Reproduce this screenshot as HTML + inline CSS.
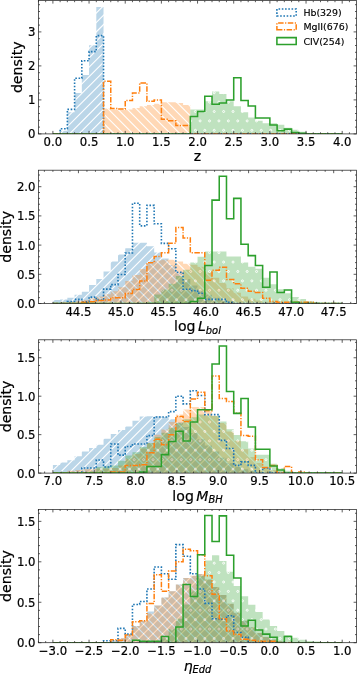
<!DOCTYPE html>
<html lang="en"><head><meta charset="utf-8"><title>density histograms</title>
<style>html,body{margin:0;padding:0;background:#fff}body{width:357px;height:675px;overflow:hidden}</style>
</head><body>
<svg width="357" height="675" viewBox="0 0 357 675" style="display:block">
<rect width="357" height="675" fill="#fff"/>
<g>
<clipPath id="cp0"><rect x="38.4" y="0.6" width="318.20000000000005" height="133.3"/></clipPath>
<g clip-path="url(#cp0)">
<clipPath id="c0hb"><path d="M52.90 133.90 L52.90 133.90 L60.13 133.90 L60.13 130.84 L67.36 130.84 L67.36 112.14 L74.60 112.14 L74.60 93.10 L81.83 93.10 L81.83 75.08 L89.06 75.08 L89.06 45.16 L96.29 45.16 L96.29 7.08 L103.53 7.08 L103.53 133.90 L110.76 133.90 L110.76 133.90 L117.99 133.90 L117.99 133.90 L125.22 133.90 L125.22 133.90 L132.46 133.90 L132.46 133.90 L139.69 133.90 L139.69 133.90 L146.92 133.90 L146.92 133.90 L154.16 133.90 L154.16 133.90 L161.39 133.90 L161.39 133.90 L168.62 133.90 L168.62 133.90 L175.85 133.90 L175.85 133.90 L183.09 133.90 L183.09 133.90 L190.32 133.90 L190.32 133.90 L197.55 133.90 L197.55 133.90 L204.78 133.90 L204.78 133.90 L212.02 133.90 L212.02 133.90 L219.25 133.90 L219.25 133.90 L226.48 133.90 L226.48 133.90 L233.71 133.90 L233.71 133.90 L240.94 133.90 L240.94 133.90 L248.18 133.90 L248.18 133.90 L255.41 133.90 L255.41 133.90 L262.64 133.90 L262.64 133.90 L269.88 133.90 L269.88 133.90 L277.11 133.90 L277.11 133.90 L284.34 133.90 L284.34 133.90 L291.57 133.90 L291.57 133.90 L298.81 133.90 L298.81 133.90 L306.04 133.90 L306.04 133.90 L313.27 133.90 L313.27 133.90 L320.50 133.90 L320.50 133.90 L327.73 133.90 L327.73 133.90 L334.97 133.90 L334.97 133.90 L342.20 133.90 L342.20 133.90 Z"/></clipPath>
<g opacity="0.3" clip-path="url(#c0hb)">
<rect x="59.13" y="6.08" width="45.40" height="128.82" fill="#1f77b4"/>
<path d="M59.13 12.52L65.57 6.08M59.13 21.93L74.98 6.08M59.13 31.34L84.39 6.08M59.13 40.75L93.80 6.08M59.13 50.16L103.21 6.08M59.13 59.57L104.53 14.17M59.13 68.98L104.53 23.58M59.13 78.39L104.53 32.99M59.13 87.80L104.53 42.40M59.13 97.21L104.53 51.81M59.13 106.62L104.53 61.22M59.13 116.03L104.53 70.63M59.13 125.44L104.53 80.04M59.13 134.85L104.53 89.45M68.49 134.90L104.53 98.86M77.90 134.90L104.53 108.27M87.31 134.90L104.53 117.68M96.72 134.90L104.53 127.09" stroke="#fff" stroke-width="1.1" fill="none"/>
</g>
<clipPath id="c0mg"><path d="M52.90 133.90 L52.90 133.90 L60.13 133.90 L60.13 133.90 L67.36 133.90 L67.36 133.90 L74.60 133.90 L74.60 133.90 L81.83 133.90 L81.83 133.90 L89.06 133.90 L89.06 133.90 L96.29 133.90 L96.29 133.90 L103.53 133.90 L103.53 108.40 L110.76 108.40 L110.76 109.42 L117.99 109.42 L117.99 110.10 L125.22 110.10 L125.22 109.42 L132.46 109.42 L132.46 108.06 L139.69 108.06 L139.69 106.36 L146.92 106.36 L146.92 105.00 L154.16 105.00 L154.16 103.64 L161.39 103.64 L161.39 102.28 L168.62 102.28 L168.62 102.28 L175.85 102.28 L175.85 102.96 L183.09 102.96 L183.09 105.00 L190.32 105.00 L190.32 133.90 L197.55 133.90 L197.55 133.90 L204.78 133.90 L204.78 133.90 L212.02 133.90 L212.02 133.90 L219.25 133.90 L219.25 133.90 L226.48 133.90 L226.48 133.90 L233.71 133.90 L233.71 133.90 L240.94 133.90 L240.94 133.90 L248.18 133.90 L248.18 133.90 L255.41 133.90 L255.41 133.90 L262.64 133.90 L262.64 133.90 L269.88 133.90 L269.88 133.90 L277.11 133.90 L277.11 133.90 L284.34 133.90 L284.34 133.90 L291.57 133.90 L291.57 133.90 L298.81 133.90 L298.81 133.90 L306.04 133.90 L306.04 133.90 L313.27 133.90 L313.27 133.90 L320.50 133.90 L320.50 133.90 L327.73 133.90 L327.73 133.90 L334.97 133.90 L334.97 133.90 L342.20 133.90 L342.20 133.90 Z"/></clipPath>
<g opacity="0.3" clip-path="url(#c0mg)">
<rect x="102.53" y="101.28" width="88.79" height="33.62" fill="#ff7f0e"/>
<path d="M102.53 131.55L105.88 134.90M102.53 122.14L115.29 134.90M102.53 112.73L124.70 134.90M102.53 103.32L134.11 134.90M109.90 101.28L143.52 134.90M119.31 101.28L152.93 134.90M128.72 101.28L162.34 134.90M138.13 101.28L171.75 134.90M147.54 101.28L181.16 134.90M156.95 101.28L190.57 134.90M166.36 101.28L191.32 126.24M175.77 101.28L191.32 116.83M185.18 101.28L191.32 107.42" stroke="#fff" stroke-width="1.1" fill="none"/>
</g>
<clipPath id="c0c4"><path d="M52.90 133.90 L52.90 133.90 L60.13 133.90 L60.13 133.90 L67.36 133.90 L67.36 133.90 L74.60 133.90 L74.60 133.90 L81.83 133.90 L81.83 133.90 L89.06 133.90 L89.06 133.90 L96.29 133.90 L96.29 133.90 L103.53 133.90 L103.53 133.90 L110.76 133.90 L110.76 133.90 L117.99 133.90 L117.99 133.90 L125.22 133.90 L125.22 133.90 L132.46 133.90 L132.46 133.90 L139.69 133.90 L139.69 133.90 L146.92 133.90 L146.92 133.90 L154.16 133.90 L154.16 133.90 L161.39 133.90 L161.39 133.90 L168.62 133.90 L168.62 133.90 L175.85 133.90 L175.85 133.90 L183.09 133.90 L183.09 133.90 L190.32 133.90 L190.32 109.42 L197.55 109.42 L197.55 109.42 L204.78 109.42 L204.78 101.26 L212.02 101.26 L212.02 91.40 L219.25 91.40 L219.25 94.12 L226.48 94.12 L226.48 101.26 L233.71 101.26 L233.71 106.36 L240.94 106.36 L240.94 112.14 L248.18 112.14 L248.18 117.58 L255.41 117.58 L255.41 120.64 L262.64 120.64 L262.64 123.36 L269.88 123.36 L269.88 123.36 L277.11 123.36 L277.11 124.72 L284.34 124.72 L284.34 127.78 L291.57 127.78 L291.57 129.82 L298.81 129.82 L298.81 131.86 L306.04 131.86 L306.04 132.88 L313.27 132.88 L313.27 133.90 L320.50 133.90 L320.50 133.90 L327.73 133.90 L327.73 133.90 L334.97 133.90 L334.97 133.90 L342.20 133.90 L342.20 133.90 Z"/></clipPath>
<g opacity="0.3" clip-path="url(#c0c4)">
<rect x="189.32" y="90.40" width="124.95" height="44.50" fill="#2ca02c"/>
<g fill="#2ca02c" stroke="#fff" stroke-width="0.95"><circle cx="204.81" cy="92.68" r="1.0"/><circle cx="214.22" cy="92.68" r="1.0"/><circle cx="223.63" cy="92.68" r="1.0"/><circle cx="233.04" cy="92.68" r="1.0"/><circle cx="200.10" cy="102.09" r="1.0"/><circle cx="209.52" cy="102.09" r="1.0"/><circle cx="218.93" cy="102.09" r="1.0"/><circle cx="228.34" cy="102.09" r="1.0"/><circle cx="237.75" cy="102.09" r="1.0"/><circle cx="195.40" cy="111.50" r="1.0"/><circle cx="204.81" cy="111.50" r="1.0"/><circle cx="214.22" cy="111.50" r="1.0"/><circle cx="223.63" cy="111.50" r="1.0"/><circle cx="233.04" cy="111.50" r="1.0"/><circle cx="242.45" cy="111.50" r="1.0"/><circle cx="251.86" cy="111.50" r="1.0"/><circle cx="190.69" cy="120.91" r="1.0"/><circle cx="200.10" cy="120.91" r="1.0"/><circle cx="209.52" cy="120.91" r="1.0"/><circle cx="218.93" cy="120.91" r="1.0"/><circle cx="228.34" cy="120.91" r="1.0"/><circle cx="237.75" cy="120.91" r="1.0"/><circle cx="247.16" cy="120.91" r="1.0"/><circle cx="256.56" cy="120.91" r="1.0"/><circle cx="265.98" cy="120.91" r="1.0"/><circle cx="195.40" cy="130.32" r="1.0"/><circle cx="204.81" cy="130.32" r="1.0"/><circle cx="214.22" cy="130.32" r="1.0"/><circle cx="223.63" cy="130.32" r="1.0"/><circle cx="233.04" cy="130.32" r="1.0"/><circle cx="242.45" cy="130.32" r="1.0"/><circle cx="251.86" cy="130.32" r="1.0"/><circle cx="261.27" cy="130.32" r="1.0"/><circle cx="270.68" cy="130.32" r="1.0"/><circle cx="280.09" cy="130.32" r="1.0"/><circle cx="289.50" cy="130.32" r="1.0"/><circle cx="298.91" cy="130.32" r="1.0"/><circle cx="308.32" cy="130.32" r="1.0"/></g>
</g>
<path d="M52.90 133.90 L52.90 133.90 L60.13 133.90 L60.13 128.80 L67.36 128.80 L67.36 109.42 L74.60 109.42 L74.60 78.31 L81.83 78.31 L81.83 60.80 L89.06 60.80 L89.06 51.62 L96.29 51.62 L96.29 35.64 L103.53 35.64 L103.53 133.90 L110.76 133.90 L110.76 133.90 L117.99 133.90 L117.99 133.90 L125.22 133.90 L125.22 133.90 L132.46 133.90 L132.46 133.90 L139.69 133.90 L139.69 133.90 L146.92 133.90 L146.92 133.90 L154.16 133.90 L154.16 133.90 L161.39 133.90 L161.39 133.90 L168.62 133.90 L168.62 133.90 L175.85 133.90 L175.85 133.90 L183.09 133.90 L183.09 133.90 L190.32 133.90 L190.32 133.90 L197.55 133.90 L197.55 133.90 L204.78 133.90 L204.78 133.90 L212.02 133.90 L212.02 133.90 L219.25 133.90 L219.25 133.90 L226.48 133.90 L226.48 133.90 L233.71 133.90 L233.71 133.90 L240.94 133.90 L240.94 133.90 L248.18 133.90 L248.18 133.90 L255.41 133.90 L255.41 133.90 L262.64 133.90 L262.64 133.90 L269.88 133.90 L269.88 133.90 L277.11 133.90 L277.11 133.90 L284.34 133.90 L284.34 133.90 L291.57 133.90 L291.57 133.90 L298.81 133.90 L298.81 133.90 L306.04 133.90 L306.04 133.90 L313.27 133.90 L313.27 133.90 L320.50 133.90 L320.50 133.90 L327.73 133.90 L327.73 133.90 L334.97 133.90 L334.97 133.90 L342.20 133.90 L342.20 133.90" fill="none" stroke="#1f77b4" stroke-width="1.6" stroke-linejoin="miter" stroke-dasharray="1.6 1.65"/>
<path d="M52.90 133.90 L52.90 133.90 L60.13 133.90 L60.13 133.90 L67.36 133.90 L67.36 133.90 L74.60 133.90 L74.60 133.90 L81.83 133.90 L81.83 133.90 L89.06 133.90 L89.06 133.90 L96.29 133.90 L96.29 133.90 L103.53 133.90 L103.53 81.37 L110.76 81.37 L110.76 108.40 L117.99 108.40 L117.99 109.08 L125.22 109.08 L125.22 100.58 L132.46 100.58 L132.46 93.10 L139.69 93.10 L139.69 82.90 L146.92 82.90 L146.92 101.26 L154.16 101.26 L154.16 99.90 L161.39 99.90 L161.39 119.28 L168.62 119.28 L168.62 120.64 L175.85 120.64 L175.85 125.40 L183.09 125.40 L183.09 125.40 L190.32 125.40 L190.32 133.90 L197.55 133.90 L197.55 133.90 L204.78 133.90 L204.78 133.90 L212.02 133.90 L212.02 133.90 L219.25 133.90 L219.25 133.90 L226.48 133.90 L226.48 133.90 L233.71 133.90 L233.71 133.90 L240.94 133.90 L240.94 133.90 L248.18 133.90 L248.18 133.90 L255.41 133.90 L255.41 133.90 L262.64 133.90 L262.64 133.90 L269.88 133.90 L269.88 133.90 L277.11 133.90 L277.11 133.90 L284.34 133.90 L284.34 133.90 L291.57 133.90 L291.57 133.90 L298.81 133.90 L298.81 133.90 L306.04 133.90 L306.04 133.90 L313.27 133.90 L313.27 133.90 L320.50 133.90 L320.50 133.90 L327.73 133.90 L327.73 133.90 L334.97 133.90 L334.97 133.90 L342.20 133.90 L342.20 133.90" fill="none" stroke="#ff7f0e" stroke-width="1.5" stroke-linejoin="miter" stroke-dasharray="5.5 1.5 1.2 1.5"/>
<path d="M52.90 133.90 L52.90 133.90 L60.13 133.90 L60.13 133.90 L67.36 133.90 L67.36 133.90 L74.60 133.90 L74.60 133.90 L81.83 133.90 L81.83 133.90 L89.06 133.90 L89.06 133.90 L96.29 133.90 L96.29 133.90 L103.53 133.90 L103.53 133.90 L110.76 133.90 L110.76 133.90 L117.99 133.90 L117.99 133.90 L125.22 133.90 L125.22 133.90 L132.46 133.90 L132.46 133.90 L139.69 133.90 L139.69 133.90 L146.92 133.90 L146.92 133.90 L154.16 133.90 L154.16 133.90 L161.39 133.90 L161.39 133.90 L168.62 133.90 L168.62 133.90 L175.85 133.90 L175.85 133.90 L183.09 133.90 L183.09 133.90 L190.32 133.90 L190.32 116.56 L197.55 116.56 L197.55 111.46 L204.78 111.46 L204.78 96.16 L212.02 96.16 L212.02 104.32 L219.25 104.32 L219.25 102.96 L226.48 102.96 L226.48 99.90 L233.71 99.90 L233.71 77.80 L240.94 77.80 L240.94 100.58 L248.18 100.58 L248.18 106.02 L255.41 106.02 L255.41 117.92 L262.64 117.92 L262.64 117.92 L269.88 117.92 L269.88 125.06 L277.11 125.06 L277.11 130.84 L284.34 130.84 L284.34 129.14 L291.57 129.14 L291.57 132.54 L298.81 132.54 L298.81 133.22 L306.04 133.22 L306.04 133.90 L313.27 133.90 L313.27 133.90 L320.50 133.90 L320.50 133.90 L327.73 133.90 L327.73 133.90 L334.97 133.90 L334.97 133.90 L342.20 133.90 L342.20 133.90" fill="none" stroke="#2ca02c" stroke-width="1.55" stroke-linejoin="miter"/>
</g>
<path d="M38.44 133.9 v-1.6 M38.44 0.6 v1.6 M45.67 133.9 v-1.6 M45.67 0.6 v1.6 M52.90 133.9 v-3.0 M52.90 0.6 v3.0 M60.13 133.9 v-1.6 M60.13 0.6 v1.6 M67.36 133.9 v-1.6 M67.36 0.6 v1.6 M74.60 133.9 v-1.6 M74.60 0.6 v1.6 M81.83 133.9 v-1.6 M81.83 0.6 v1.6 M89.06 133.9 v-3.0 M89.06 0.6 v3.0 M96.30 133.9 v-1.6 M96.30 0.6 v1.6 M103.53 133.9 v-1.6 M103.53 0.6 v1.6 M110.76 133.9 v-1.6 M110.76 0.6 v1.6 M117.99 133.9 v-1.6 M117.99 0.6 v1.6 M125.22 133.9 v-3.0 M125.22 0.6 v3.0 M132.46 133.9 v-1.6 M132.46 0.6 v1.6 M139.69 133.9 v-1.6 M139.69 0.6 v1.6 M146.92 133.9 v-1.6 M146.92 0.6 v1.6 M154.16 133.9 v-1.6 M154.16 0.6 v1.6 M161.39 133.9 v-3.0 M161.39 0.6 v3.0 M168.62 133.9 v-1.6 M168.62 0.6 v1.6 M175.85 133.9 v-1.6 M175.85 0.6 v1.6 M183.09 133.9 v-1.6 M183.09 0.6 v1.6 M190.32 133.9 v-1.6 M190.32 0.6 v1.6 M197.55 133.9 v-3.0 M197.55 0.6 v3.0 M204.78 133.9 v-1.6 M204.78 0.6 v1.6 M212.02 133.9 v-1.6 M212.02 0.6 v1.6 M219.25 133.9 v-1.6 M219.25 0.6 v1.6 M226.48 133.9 v-1.6 M226.48 0.6 v1.6 M233.71 133.9 v-3.0 M233.71 0.6 v3.0 M240.94 133.9 v-1.6 M240.94 0.6 v1.6 M248.18 133.9 v-1.6 M248.18 0.6 v1.6 M255.41 133.9 v-1.6 M255.41 0.6 v1.6 M262.64 133.9 v-1.6 M262.64 0.6 v1.6 M269.88 133.9 v-3.0 M269.88 0.6 v3.0 M277.11 133.9 v-1.6 M277.11 0.6 v1.6 M284.34 133.9 v-1.6 M284.34 0.6 v1.6 M291.57 133.9 v-1.6 M291.57 0.6 v1.6 M298.81 133.9 v-1.6 M298.81 0.6 v1.6 M306.04 133.9 v-3.0 M306.04 0.6 v3.0 M313.27 133.9 v-1.6 M313.27 0.6 v1.6 M320.50 133.9 v-1.6 M320.50 0.6 v1.6 M327.73 133.9 v-1.6 M327.73 0.6 v1.6 M334.97 133.9 v-1.6 M334.97 0.6 v1.6 M342.20 133.9 v-3.0 M342.20 0.6 v3.0 M349.43 133.9 v-1.6 M349.43 0.6 v1.6 M38.4 133.90 h3.0 M356.6 133.90 h-3.0 M38.4 127.10 h1.6 M356.6 127.10 h-1.6 M38.4 120.30 h1.6 M356.6 120.30 h-1.6 M38.4 113.50 h1.6 M356.6 113.50 h-1.6 M38.4 106.70 h1.6 M356.6 106.70 h-1.6 M38.4 99.90 h3.0 M356.6 99.90 h-3.0 M38.4 93.10 h1.6 M356.6 93.10 h-1.6 M38.4 86.30 h1.6 M356.6 86.30 h-1.6 M38.4 79.50 h1.6 M356.6 79.50 h-1.6 M38.4 72.70 h1.6 M356.6 72.70 h-1.6 M38.4 65.90 h3.0 M356.6 65.90 h-3.0 M38.4 59.10 h1.6 M356.6 59.10 h-1.6 M38.4 52.30 h1.6 M356.6 52.30 h-1.6 M38.4 45.50 h1.6 M356.6 45.50 h-1.6 M38.4 38.70 h1.6 M356.6 38.70 h-1.6 M38.4 31.90 h3.0 M356.6 31.90 h-3.0 M38.4 25.10 h1.6 M356.6 25.10 h-1.6 M38.4 18.30 h1.6 M356.6 18.30 h-1.6 M38.4 11.50 h1.6 M356.6 11.50 h-1.6 M38.4 4.70 h1.6 M356.6 4.70 h-1.6" stroke="#262626" stroke-width="0.75" fill="none"/>
<rect x="38.4" y="0.6" width="318.20000000000005" height="133.3" fill="none" stroke="#262626" stroke-width="0.75"/>
<g font-family="DejaVu Sans, Liberation Sans, sans-serif" font-size="11.7" fill="#000" stroke="#000" stroke-width="0.2">
<text x="52.90" y="145.90" text-anchor="middle">0.0</text>
<text x="89.06" y="145.90" text-anchor="middle">0.5</text>
<text x="125.22" y="145.90" text-anchor="middle">1.0</text>
<text x="161.39" y="145.90" text-anchor="middle">1.5</text>
<text x="197.55" y="145.90" text-anchor="middle">2.0</text>
<text x="233.71" y="145.90" text-anchor="middle">2.5</text>
<text x="269.88" y="145.90" text-anchor="middle">3.0</text>
<text x="306.04" y="145.90" text-anchor="middle">3.5</text>
<text x="342.20" y="145.90" text-anchor="middle">4.0</text>
<text x="35.50" y="138.40" text-anchor="end">0</text>
<text x="35.50" y="104.40" text-anchor="end">1</text>
<text x="35.50" y="70.40" text-anchor="end">2</text>
<text x="35.50" y="36.40" text-anchor="end">3</text>
</g>
<text transform="translate(22.0 67.25) rotate(-90)" text-anchor="middle" font-family="DejaVu Sans, Liberation Sans, sans-serif" font-size="14.1" fill="#000" stroke="#000" stroke-width="0.2">density</text>
</g>
<g>
<clipPath id="cp1"><rect x="38.4" y="170.2" width="318.20000000000005" height="133.3"/></clipPath>
<g clip-path="url(#cp1)">
<clipPath id="c1hb"><path d="M52.90 303.50 L52.90 300.00 L60.13 300.00 L60.13 299.41 L67.36 299.41 L67.36 297.66 L74.60 297.66 L74.60 294.86 L81.83 294.86 L81.83 291.82 L89.06 291.82 L89.06 285.10 L96.29 285.10 L96.29 278.97 L103.53 278.97 L103.53 271.38 L110.76 271.38 L110.76 261.45 L117.99 261.45 L117.99 254.44 L125.22 254.44 L125.22 248.31 L132.46 248.31 L132.46 242.76 L139.69 242.76 L139.69 242.76 L146.92 242.76 L146.92 246.27 L154.16 246.27 L154.16 252.40 L161.39 252.40 L161.39 258.53 L168.62 258.53 L168.62 264.96 L175.85 264.96 L175.85 272.84 L183.09 272.84 L183.09 278.97 L190.32 278.97 L190.32 285.40 L197.55 285.40 L197.55 290.65 L204.78 290.65 L204.78 294.74 L212.02 294.74 L212.02 297.66 L219.25 297.66 L219.25 300.00 L226.48 300.00 L226.48 301.75 L233.71 301.75 L233.71 303.50 L240.94 303.50 L240.94 303.50 L248.18 303.50 L248.18 303.50 L255.41 303.50 L255.41 303.50 L262.64 303.50 L262.64 303.50 L269.88 303.50 L269.88 303.50 L277.11 303.50 L277.11 303.50 L284.34 303.50 L284.34 303.50 L291.57 303.50 L291.57 303.50 L298.81 303.50 L298.81 303.50 L306.04 303.50 L306.04 303.50 L313.27 303.50 L313.27 303.50 L320.50 303.50 L320.50 303.50 L327.73 303.50 L327.73 303.50 L334.97 303.50 L334.97 303.50 L342.20 303.50 L342.20 303.50 Z"/></clipPath>
<g opacity="0.3" clip-path="url(#c1hb)">
<rect x="51.90" y="241.76" width="182.81" height="62.74" fill="#1f77b4"/>
<path d="M51.90 245.59L55.73 241.76M51.90 255.00L65.14 241.76M51.90 264.41L74.55 241.76M51.90 273.82L83.96 241.76M51.90 283.23L93.37 241.76M51.90 292.64L102.78 241.76M51.90 302.05L112.19 241.76M58.86 304.50L121.60 241.76M68.27 304.50L131.01 241.76M77.68 304.50L140.42 241.76M87.09 304.50L149.83 241.76M96.50 304.50L159.24 241.76M105.91 304.50L168.65 241.76M115.32 304.50L178.06 241.76M124.73 304.50L187.47 241.76M134.14 304.50L196.88 241.76M143.55 304.50L206.29 241.76M152.96 304.50L215.70 241.76M162.37 304.50L225.11 241.76M171.78 304.50L234.52 241.76M181.19 304.50L234.71 250.98M190.60 304.50L234.71 260.39M200.01 304.50L234.71 269.80M209.42 304.50L234.71 279.21M218.83 304.50L234.71 288.62M228.24 304.50L234.71 298.03" stroke="#fff" stroke-width="1.1" fill="none"/>
</g>
<clipPath id="c1mg"><path d="M52.90 303.50 L52.90 302.92 L60.13 302.92 L60.13 302.33 L67.36 302.33 L67.36 301.75 L74.60 301.75 L74.60 301.16 L81.83 301.16 L81.83 300.00 L89.06 300.00 L89.06 298.24 L96.29 298.24 L96.29 296.49 L103.53 296.49 L103.53 294.16 L110.76 294.16 L110.76 291.24 L117.99 291.24 L117.99 287.15 L125.22 287.15 L125.22 281.02 L132.46 281.02 L132.46 274.88 L139.69 274.88 L139.69 269.04 L146.92 269.04 L146.92 264.37 L154.16 264.37 L154.16 260.58 L161.39 260.58 L161.39 259.70 L168.62 259.70 L168.62 259.70 L175.85 259.70 L175.85 261.45 L183.09 261.45 L183.09 263.79 L190.32 263.79 L190.32 264.66 L197.55 264.66 L197.55 266.71 L204.78 266.71 L204.78 272.84 L212.02 272.84 L212.02 277.80 L219.25 277.80 L219.25 283.06 L226.48 283.06 L226.48 288.32 L233.71 288.32 L233.71 292.70 L240.94 292.70 L240.94 296.49 L248.18 296.49 L248.18 298.83 L255.41 298.83 L255.41 300.58 L262.64 300.58 L262.64 301.75 L269.88 301.75 L269.88 302.33 L277.11 302.33 L277.11 303.50 L284.34 303.50 L284.34 303.50 L291.57 303.50 L291.57 303.50 L298.81 303.50 L298.81 303.50 L306.04 303.50 L306.04 303.50 L313.27 303.50 L313.27 303.50 L320.50 303.50 L320.50 303.50 L327.73 303.50 L327.73 303.50 L334.97 303.50 L334.97 303.50 L342.20 303.50 L342.20 303.50 Z"/></clipPath>
<g opacity="0.3" clip-path="url(#c1mg)">
<rect x="51.90" y="258.70" width="226.21" height="45.80" fill="#ff7f0e"/>
<path d="M51.90 297.35L59.05 304.50M51.90 287.94L68.46 304.50M51.90 278.53L77.87 304.50M51.90 269.12L87.28 304.50M51.90 259.71L96.69 304.50M60.30 258.70L106.10 304.50M69.71 258.70L115.51 304.50M79.12 258.70L124.92 304.50M88.53 258.70L134.33 304.50M97.94 258.70L143.74 304.50M107.35 258.70L153.15 304.50M116.76 258.70L162.56 304.50M126.17 258.70L171.97 304.50M135.58 258.70L181.38 304.50M144.99 258.70L190.79 304.50M154.40 258.70L200.20 304.50M163.81 258.70L209.61 304.50M173.22 258.70L219.02 304.50M182.63 258.70L228.43 304.50M192.04 258.70L237.84 304.50M201.45 258.70L247.25 304.50M210.86 258.70L256.66 304.50M220.27 258.70L266.07 304.50M229.68 258.70L275.48 304.50M239.09 258.70L278.11 297.72M248.50 258.70L278.11 288.31M257.91 258.70L278.11 278.90M267.32 258.70L278.11 269.49M276.73 258.70L278.11 260.08" stroke="#fff" stroke-width="1.1" fill="none"/>
</g>
<clipPath id="c1c4"><path d="M52.90 303.50 L52.90 303.50 L60.13 303.50 L60.13 303.50 L67.36 303.50 L67.36 303.50 L74.60 303.50 L74.60 303.50 L81.83 303.50 L81.83 303.50 L89.06 303.50 L89.06 303.50 L96.29 303.50 L96.29 303.50 L103.53 303.50 L103.53 303.50 L110.76 303.50 L110.76 303.50 L117.99 303.50 L117.99 303.50 L125.22 303.50 L125.22 303.50 L132.46 303.50 L132.46 303.50 L139.69 303.50 L139.69 303.50 L146.92 303.50 L146.92 302.33 L154.16 302.33 L154.16 294.39 L161.39 294.39 L161.39 289.48 L168.62 289.48 L168.62 283.64 L175.85 283.64 L175.85 276.05 L183.09 276.05 L183.09 269.63 L190.32 269.63 L190.32 262.62 L197.55 262.62 L197.55 256.78 L204.78 256.78 L204.78 251.52 L212.02 251.52 L212.02 251.52 L219.25 251.52 L219.25 251.52 L226.48 251.52 L226.48 256.49 L233.71 256.49 L233.71 256.49 L240.94 256.49 L240.94 262.62 L248.18 262.62 L248.18 266.71 L255.41 266.71 L255.41 268.75 L262.64 268.75 L262.64 277.80 L269.88 277.80 L269.88 284.23 L277.11 284.23 L277.11 289.19 L284.34 289.19 L284.34 293.28 L291.57 293.28 L291.57 297.08 L298.81 297.08 L298.81 299.00 L306.04 299.00 L306.04 301.16 L313.27 301.16 L313.27 302.33 L320.50 302.33 L320.50 303.50 L327.73 303.50 L327.73 303.50 L334.97 303.50 L334.97 303.50 L342.20 303.50 L342.20 303.50 Z"/></clipPath>
<g opacity="0.3" clip-path="url(#c1c4)">
<rect x="145.92" y="250.52" width="175.58" height="53.98" fill="#2ca02c"/>
<g fill="#2ca02c" stroke="#fff" stroke-width="0.95"><circle cx="200.10" cy="252.65" r="1.0"/><circle cx="209.52" cy="252.65" r="1.0"/><circle cx="218.93" cy="252.65" r="1.0"/><circle cx="228.34" cy="252.65" r="1.0"/><circle cx="185.99" cy="262.06" r="1.0"/><circle cx="195.40" cy="262.06" r="1.0"/><circle cx="204.81" cy="262.06" r="1.0"/><circle cx="214.22" cy="262.06" r="1.0"/><circle cx="223.63" cy="262.06" r="1.0"/><circle cx="233.04" cy="262.06" r="1.0"/><circle cx="242.45" cy="262.06" r="1.0"/><circle cx="251.86" cy="262.06" r="1.0"/><circle cx="181.28" cy="271.47" r="1.0"/><circle cx="190.69" cy="271.47" r="1.0"/><circle cx="200.10" cy="271.47" r="1.0"/><circle cx="209.52" cy="271.47" r="1.0"/><circle cx="218.93" cy="271.47" r="1.0"/><circle cx="228.34" cy="271.47" r="1.0"/><circle cx="237.75" cy="271.47" r="1.0"/><circle cx="247.16" cy="271.47" r="1.0"/><circle cx="256.56" cy="271.47" r="1.0"/><circle cx="265.98" cy="271.47" r="1.0"/><circle cx="176.58" cy="280.88" r="1.0"/><circle cx="185.99" cy="280.88" r="1.0"/><circle cx="195.40" cy="280.88" r="1.0"/><circle cx="204.81" cy="280.88" r="1.0"/><circle cx="214.22" cy="280.88" r="1.0"/><circle cx="223.63" cy="280.88" r="1.0"/><circle cx="233.04" cy="280.88" r="1.0"/><circle cx="242.45" cy="280.88" r="1.0"/><circle cx="251.86" cy="280.88" r="1.0"/><circle cx="261.27" cy="280.88" r="1.0"/><circle cx="270.68" cy="280.88" r="1.0"/><circle cx="162.47" cy="290.29" r="1.0"/><circle cx="171.88" cy="290.29" r="1.0"/><circle cx="181.28" cy="290.29" r="1.0"/><circle cx="190.69" cy="290.29" r="1.0"/><circle cx="200.10" cy="290.29" r="1.0"/><circle cx="209.52" cy="290.29" r="1.0"/><circle cx="218.93" cy="290.29" r="1.0"/><circle cx="228.34" cy="290.29" r="1.0"/><circle cx="237.75" cy="290.29" r="1.0"/><circle cx="247.16" cy="290.29" r="1.0"/><circle cx="256.56" cy="290.29" r="1.0"/><circle cx="265.98" cy="290.29" r="1.0"/><circle cx="275.38" cy="290.29" r="1.0"/><circle cx="284.79" cy="290.29" r="1.0"/><circle cx="148.35" cy="299.70" r="1.0"/><circle cx="157.76" cy="299.70" r="1.0"/><circle cx="167.17" cy="299.70" r="1.0"/><circle cx="176.58" cy="299.70" r="1.0"/><circle cx="185.99" cy="299.70" r="1.0"/><circle cx="195.40" cy="299.70" r="1.0"/><circle cx="204.81" cy="299.70" r="1.0"/><circle cx="214.22" cy="299.70" r="1.0"/><circle cx="223.63" cy="299.70" r="1.0"/><circle cx="233.04" cy="299.70" r="1.0"/><circle cx="242.45" cy="299.70" r="1.0"/><circle cx="251.86" cy="299.70" r="1.0"/><circle cx="261.27" cy="299.70" r="1.0"/><circle cx="270.68" cy="299.70" r="1.0"/><circle cx="280.09" cy="299.70" r="1.0"/><circle cx="289.50" cy="299.70" r="1.0"/><circle cx="298.91" cy="299.70" r="1.0"/><circle cx="308.32" cy="299.70" r="1.0"/><circle cx="317.73" cy="299.70" r="1.0"/></g>
</g>
<path d="M52.90 303.50 L52.90 303.50 L60.13 303.50 L60.13 303.50 L67.36 303.50 L67.36 301.46 L74.60 301.46 L74.60 299.41 L81.83 299.41 L81.83 301.75 L89.06 301.75 L89.06 297.08 L96.29 297.08 L96.29 300.00 L103.53 300.00 L103.53 289.13 L110.76 289.13 L110.76 284.58 L117.99 284.58 L117.99 274.53 L125.22 274.53 L125.22 252.93 L132.46 252.93 L132.46 203.29 L139.69 203.29 L139.69 225.83 L146.92 225.83 L146.92 205.39 L154.16 205.39 L154.16 223.78 L161.39 223.78 L161.39 243.35 L168.62 243.35 L168.62 248.78 L175.85 248.78 L175.85 272.31 L183.09 272.31 L183.09 289.19 L190.32 289.19 L190.32 290.65 L197.55 290.65 L197.55 293.28 L204.78 293.28 L204.78 299.41 L212.02 299.41 L212.02 299.41 L219.25 299.41 L219.25 299.41 L226.48 299.41 L226.48 302.33 L233.71 302.33 L233.71 303.50 L240.94 303.50 L240.94 303.50 L248.18 303.50 L248.18 303.50 L255.41 303.50 L255.41 303.50 L262.64 303.50 L262.64 303.50 L269.88 303.50 L269.88 303.50 L277.11 303.50 L277.11 303.50 L284.34 303.50 L284.34 303.50 L291.57 303.50 L291.57 303.50 L298.81 303.50 L298.81 303.50 L306.04 303.50 L306.04 303.50 L313.27 303.50 L313.27 303.50 L320.50 303.50 L320.50 303.50 L327.73 303.50 L327.73 303.50 L334.97 303.50 L334.97 303.50 L342.20 303.50 L342.20 303.50" fill="none" stroke="#1f77b4" stroke-width="1.6" stroke-linejoin="miter" stroke-dasharray="1.6 1.65"/>
<path d="M52.90 303.50 L52.90 303.50 L60.13 303.50 L60.13 303.50 L67.36 303.50 L67.36 303.50 L74.60 303.50 L74.60 303.50 L81.83 303.50 L81.83 302.33 L89.06 302.33 L89.06 301.75 L96.29 301.75 L96.29 300.58 L103.53 300.58 L103.53 300.00 L110.76 300.00 L110.76 297.66 L117.99 297.66 L117.99 297.66 L125.22 297.66 L125.22 293.57 L132.46 293.57 L132.46 289.48 L139.69 289.48 L139.69 281.02 L146.92 281.02 L146.92 262.80 L154.16 262.80 L154.16 256.49 L161.39 256.49 L161.39 252.69 L168.62 252.69 L168.62 243.35 L175.85 243.35 L175.85 227.58 L183.09 227.58 L183.09 238.09 L190.32 238.09 L190.32 252.69 L197.55 252.69 L197.55 252.69 L204.78 252.69 L204.78 280.14 L212.02 280.14 L212.02 270.21 L219.25 270.21 L219.25 267.29 L226.48 267.29 L226.48 279.56 L233.71 279.56 L233.71 283.64 L240.94 283.64 L240.94 288.32 L248.18 288.32 L248.18 291.24 L255.41 291.24 L255.41 292.40 L262.64 292.40 L262.64 298.24 L269.88 298.24 L269.88 301.46 L277.11 301.46 L277.11 302.33 L284.34 302.33 L284.34 302.33 L291.57 302.33 L291.57 302.33 L298.81 302.33 L298.81 302.33 L306.04 302.33 L306.04 302.33 L313.27 302.33 L313.27 303.50 L320.50 303.50 L320.50 303.50 L327.73 303.50 L327.73 303.50 L334.97 303.50 L334.97 303.50 L342.20 303.50 L342.20 303.50" fill="none" stroke="#ff7f0e" stroke-width="1.5" stroke-linejoin="miter" stroke-dasharray="5.5 1.5 1.2 1.5"/>
<path d="M52.90 303.50 L52.90 303.50 L60.13 303.50 L60.13 303.50 L67.36 303.50 L67.36 303.50 L74.60 303.50 L74.60 303.50 L81.83 303.50 L81.83 303.50 L89.06 303.50 L89.06 303.50 L96.29 303.50 L96.29 303.50 L103.53 303.50 L103.53 303.50 L110.76 303.50 L110.76 303.50 L117.99 303.50 L117.99 303.50 L125.22 303.50 L125.22 303.50 L132.46 303.50 L132.46 303.50 L139.69 303.50 L139.69 303.50 L146.92 303.50 L146.92 303.50 L154.16 303.50 L154.16 303.50 L161.39 303.50 L161.39 303.50 L168.62 303.50 L168.62 303.50 L175.85 303.50 L175.85 303.50 L183.09 303.50 L183.09 303.50 L190.32 303.50 L190.32 301.46 L197.55 301.46 L197.55 298.24 L204.78 298.24 L204.78 265.54 L212.02 265.54 L212.02 200.13 L219.25 200.13 L219.25 176.19 L226.48 176.19 L226.48 218.82 L233.71 218.82 L233.71 198.38 L240.94 198.38 L240.94 244.22 L248.18 244.22 L248.18 255.61 L255.41 255.61 L255.41 265.54 L262.64 265.54 L262.64 287.15 L269.88 287.15 L269.88 271.96 L277.11 271.96 L277.11 292.40 L284.34 292.40 L284.34 290.07 L291.57 290.07 L291.57 302.33 L298.81 302.33 L298.81 303.50 L306.04 303.50 L306.04 303.50 L313.27 303.50 L313.27 303.50 L320.50 303.50 L320.50 303.50 L327.73 303.50 L327.73 303.50 L334.97 303.50 L334.97 303.50 L342.20 303.50 L342.20 303.50" fill="none" stroke="#2ca02c" stroke-width="1.55" stroke-linejoin="miter"/>
</g>
<path d="M44.39 303.5 v-1.6 M44.39 170.2 v1.6 M52.90 303.5 v-1.6 M52.90 170.2 v1.6 M61.41 303.5 v-1.6 M61.41 170.2 v1.6 M69.92 303.5 v-1.6 M69.92 170.2 v1.6 M78.43 303.5 v-3.0 M78.43 170.2 v3.0 M86.94 303.5 v-1.6 M86.94 170.2 v1.6 M95.44 303.5 v-1.6 M95.44 170.2 v1.6 M103.95 303.5 v-1.6 M103.95 170.2 v1.6 M112.46 303.5 v-1.6 M112.46 170.2 v1.6 M120.97 303.5 v-3.0 M120.97 170.2 v3.0 M129.48 303.5 v-1.6 M129.48 170.2 v1.6 M137.99 303.5 v-1.6 M137.99 170.2 v1.6 M146.50 303.5 v-1.6 M146.50 170.2 v1.6 M155.01 303.5 v-1.6 M155.01 170.2 v1.6 M163.51 303.5 v-3.0 M163.51 170.2 v3.0 M172.02 303.5 v-1.6 M172.02 170.2 v1.6 M180.53 303.5 v-1.6 M180.53 170.2 v1.6 M189.04 303.5 v-1.6 M189.04 170.2 v1.6 M197.55 303.5 v-1.6 M197.55 170.2 v1.6 M206.06 303.5 v-3.0 M206.06 170.2 v3.0 M214.57 303.5 v-1.6 M214.57 170.2 v1.6 M223.08 303.5 v-1.6 M223.08 170.2 v1.6 M231.59 303.5 v-1.6 M231.59 170.2 v1.6 M240.09 303.5 v-1.6 M240.09 170.2 v1.6 M248.60 303.5 v-3.0 M248.60 170.2 v3.0 M257.11 303.5 v-1.6 M257.11 170.2 v1.6 M265.62 303.5 v-1.6 M265.62 170.2 v1.6 M274.13 303.5 v-1.6 M274.13 170.2 v1.6 M282.64 303.5 v-1.6 M282.64 170.2 v1.6 M291.15 303.5 v-3.0 M291.15 170.2 v3.0 M299.66 303.5 v-1.6 M299.66 170.2 v1.6 M308.16 303.5 v-1.6 M308.16 170.2 v1.6 M316.67 303.5 v-1.6 M316.67 170.2 v1.6 M325.18 303.5 v-1.6 M325.18 170.2 v1.6 M333.69 303.5 v-3.0 M333.69 170.2 v3.0 M342.20 303.5 v-1.6 M342.20 170.2 v1.6 M350.71 303.5 v-1.6 M350.71 170.2 v1.6 M38.4 303.50 h3.0 M356.6 303.50 h-3.0 M38.4 297.66 h1.6 M356.6 297.66 h-1.6 M38.4 291.82 h1.6 M356.6 291.82 h-1.6 M38.4 285.98 h1.6 M356.6 285.98 h-1.6 M38.4 280.14 h1.6 M356.6 280.14 h-1.6 M38.4 274.30 h3.0 M356.6 274.30 h-3.0 M38.4 268.46 h1.6 M356.6 268.46 h-1.6 M38.4 262.62 h1.6 M356.6 262.62 h-1.6 M38.4 256.78 h1.6 M356.6 256.78 h-1.6 M38.4 250.94 h1.6 M356.6 250.94 h-1.6 M38.4 245.10 h3.0 M356.6 245.10 h-3.0 M38.4 239.26 h1.6 M356.6 239.26 h-1.6 M38.4 233.42 h1.6 M356.6 233.42 h-1.6 M38.4 227.58 h1.6 M356.6 227.58 h-1.6 M38.4 221.74 h1.6 M356.6 221.74 h-1.6 M38.4 215.90 h3.0 M356.6 215.90 h-3.0 M38.4 210.06 h1.6 M356.6 210.06 h-1.6 M38.4 204.22 h1.6 M356.6 204.22 h-1.6 M38.4 198.38 h1.6 M356.6 198.38 h-1.6 M38.4 192.54 h1.6 M356.6 192.54 h-1.6 M38.4 186.70 h3.0 M356.6 186.70 h-3.0 M38.4 180.86 h1.6 M356.6 180.86 h-1.6 M38.4 175.02 h1.6 M356.6 175.02 h-1.6" stroke="#262626" stroke-width="0.75" fill="none"/>
<rect x="38.4" y="170.2" width="318.20000000000005" height="133.3" fill="none" stroke="#262626" stroke-width="0.75"/>
<g font-family="DejaVu Sans, Liberation Sans, sans-serif" font-size="11.7" fill="#000" stroke="#000" stroke-width="0.2">
<text x="78.43" y="315.50" text-anchor="middle">44.5</text>
<text x="120.97" y="315.50" text-anchor="middle">45.0</text>
<text x="163.51" y="315.50" text-anchor="middle">45.5</text>
<text x="206.06" y="315.50" text-anchor="middle">46.0</text>
<text x="248.60" y="315.50" text-anchor="middle">46.5</text>
<text x="291.15" y="315.50" text-anchor="middle">47.0</text>
<text x="333.69" y="315.50" text-anchor="middle">47.5</text>
<text x="35.50" y="308.00" text-anchor="end">0.0</text>
<text x="35.50" y="278.80" text-anchor="end">0.5</text>
<text x="35.50" y="249.60" text-anchor="end">1.0</text>
<text x="35.50" y="220.40" text-anchor="end">1.5</text>
<text x="35.50" y="191.20" text-anchor="end">2.0</text>
</g>
<text transform="translate(10.6 236.85) rotate(-90)" text-anchor="middle" font-family="DejaVu Sans, Liberation Sans, sans-serif" font-size="14.1" fill="#000" stroke="#000" stroke-width="0.2">density</text>
</g>
<g>
<clipPath id="cp2"><rect x="38.4" y="339.8" width="318.20000000000005" height="133.3"/></clipPath>
<g clip-path="url(#cp2)">
<clipPath id="c2hb"><path d="M52.90 473.10 L52.90 464.95 L60.13 464.95 L60.13 462.49 L67.36 462.49 L67.36 460.18 L74.60 460.18 L74.60 456.34 L81.83 456.34 L81.83 451.57 L89.06 451.57 L89.06 448.11 L96.29 448.11 L96.29 444.65 L103.53 444.65 L103.53 438.73 L110.76 438.73 L110.76 433.88 L117.99 433.88 L117.99 430.04 L125.22 430.04 L125.22 426.50 L132.46 426.50 L132.46 420.81 L139.69 420.81 L139.69 416.42 L146.92 416.42 L146.92 416.19 L154.16 416.19 L154.16 416.19 L161.39 416.19 L161.39 416.96 L168.62 416.96 L168.62 419.27 L175.85 419.27 L175.85 422.35 L183.09 422.35 L183.09 426.96 L190.32 426.96 L190.32 433.11 L197.55 433.11 L197.55 439.26 L204.78 439.26 L204.78 445.42 L212.02 445.42 L212.02 451.57 L219.25 451.57 L219.25 457.72 L226.48 457.72 L226.48 463.10 L233.71 463.10 L233.71 466.95 L240.94 466.95 L240.94 469.25 L248.18 469.25 L248.18 470.79 L255.41 470.79 L255.41 472.33 L262.64 472.33 L262.64 473.10 L269.88 473.10 L269.88 473.10 L277.11 473.10 L277.11 473.10 L284.34 473.10 L284.34 473.10 L291.57 473.10 L291.57 473.10 L298.81 473.10 L298.81 473.10 L306.04 473.10 L306.04 473.10 L313.27 473.10 L313.27 473.10 L320.50 473.10 L320.50 473.10 L327.73 473.10 L327.73 473.10 L334.97 473.10 L334.97 473.10 L342.20 473.10 L342.20 473.10 Z"/></clipPath>
<g opacity="0.3" clip-path="url(#c2hb)">
<rect x="51.90" y="415.19" width="211.74" height="58.91" fill="#1f77b4"/>
<path d="M51.90 424.38L61.09 415.19M51.90 433.79L70.50 415.19M51.90 443.20L79.91 415.19M51.90 452.61L89.32 415.19M51.90 462.02L98.73 415.19M51.90 471.43L108.14 415.19M58.64 474.10L117.55 415.19M68.05 474.10L126.96 415.19M77.46 474.10L136.37 415.19M86.87 474.10L145.78 415.19M96.28 474.10L155.19 415.19M105.69 474.10L164.60 415.19M115.10 474.10L174.01 415.19M124.51 474.10L183.42 415.19M133.92 474.10L192.83 415.19M143.33 474.10L202.24 415.19M152.74 474.10L211.65 415.19M162.15 474.10L221.06 415.19M171.56 474.10L230.47 415.19M180.97 474.10L239.88 415.19M190.38 474.10L249.29 415.19M199.79 474.10L258.70 415.19M209.20 474.10L263.64 419.66M218.61 474.10L263.64 429.07M228.02 474.10L263.64 438.48M237.43 474.10L263.64 447.89M246.84 474.10L263.64 457.30M256.25 474.10L263.64 466.71" stroke="#fff" stroke-width="1.1" fill="none"/>
</g>
<clipPath id="c2mg"><path d="M52.90 473.10 L52.90 473.10 L60.13 473.10 L60.13 472.33 L67.36 472.33 L67.36 470.79 L74.60 470.79 L74.60 470.02 L81.83 470.02 L81.83 469.25 L89.06 469.25 L89.06 468.87 L96.29 468.87 L96.29 468.49 L103.53 468.49 L103.53 468.49 L110.76 468.49 L110.76 468.10 L117.99 468.10 L117.99 465.41 L125.22 465.41 L125.22 458.49 L132.46 458.49 L132.46 453.88 L139.69 453.88 L139.69 448.49 L146.92 448.49 L146.92 443.11 L154.16 443.11 L154.16 434.65 L161.39 434.65 L161.39 429.50 L168.62 429.50 L168.62 421.88 L175.85 421.88 L175.85 414.43 L183.09 414.43 L183.09 409.50 L190.32 409.50 L190.32 406.97 L197.55 406.97 L197.55 406.97 L204.78 406.97 L204.78 411.58 L212.02 411.58 L212.02 415.81 L219.25 415.81 L219.25 423.12 L226.48 423.12 L226.48 431.57 L233.71 431.57 L233.71 440.80 L240.94 440.80 L240.94 449.26 L248.18 449.26 L248.18 456.95 L255.41 456.95 L255.41 463.10 L262.64 463.10 L262.64 466.95 L269.88 466.95 L269.88 470.02 L277.11 470.02 L277.11 471.56 L284.34 471.56 L284.34 473.10 L291.57 473.10 L291.57 473.10 L298.81 473.10 L298.81 473.10 L306.04 473.10 L306.04 473.10 L313.27 473.10 L313.27 473.10 L320.50 473.10 L320.50 473.10 L327.73 473.10 L327.73 473.10 L334.97 473.10 L334.97 473.10 L342.20 473.10 L342.20 473.10 Z"/></clipPath>
<g opacity="0.3" clip-path="url(#c2mg)">
<rect x="59.13" y="405.97" width="226.21" height="68.13" fill="#ff7f0e"/>
<path d="M59.13 473.96L59.27 474.10M59.13 464.55L68.68 474.10M59.13 455.14L78.09 474.10M59.13 445.73L87.50 474.10M59.13 436.32L96.91 474.10M59.13 426.91L106.32 474.10M59.13 417.50L115.73 474.10M59.13 408.09L125.14 474.10M66.42 405.97L134.55 474.10M75.83 405.97L143.96 474.10M85.24 405.97L153.37 474.10M94.65 405.97L162.78 474.10M104.06 405.97L172.19 474.10M113.47 405.97L181.60 474.10M122.88 405.97L191.01 474.10M132.29 405.97L200.42 474.10M141.70 405.97L209.83 474.10M151.11 405.97L219.24 474.10M160.52 405.97L228.65 474.10M169.93 405.97L238.06 474.10M179.34 405.97L247.47 474.10M188.75 405.97L256.88 474.10M198.16 405.97L266.29 474.10M207.57 405.97L275.70 474.10M216.98 405.97L285.11 474.10M226.39 405.97L285.34 464.92M235.80 405.97L285.34 455.51M245.21 405.97L285.34 446.10M254.62 405.97L285.34 436.69M264.03 405.97L285.34 427.28M273.44 405.97L285.34 417.87M282.85 405.97L285.34 408.46" stroke="#fff" stroke-width="1.1" fill="none"/>
</g>
<clipPath id="c2c4"><path d="M52.90 473.10 L52.90 473.10 L60.13 473.10 L60.13 473.10 L67.36 473.10 L67.36 473.10 L74.60 473.10 L74.60 473.10 L81.83 473.10 L81.83 473.10 L89.06 473.10 L89.06 471.56 L96.29 471.56 L96.29 466.95 L103.53 466.95 L103.53 466.18 L110.76 466.18 L110.76 465.41 L117.99 465.41 L117.99 460.80 L125.22 460.80 L125.22 455.49 L132.46 455.49 L132.46 452.18 L139.69 452.18 L139.69 447.11 L146.92 447.11 L146.92 442.88 L154.16 442.88 L154.16 437.03 L161.39 437.03 L161.39 432.80 L168.62 432.80 L168.62 427.73 L175.85 427.73 L175.85 423.12 L183.09 423.12 L183.09 419.27 L190.32 419.27 L190.32 417.35 L197.55 417.35 L197.55 414.43 L204.78 414.43 L204.78 415.43 L212.02 415.43 L212.02 416.04 L219.25 416.04 L219.25 421.58 L226.48 421.58 L226.48 429.27 L233.71 429.27 L233.71 434.88 L240.94 434.88 L240.94 441.19 L248.18 441.19 L248.18 448.49 L255.41 448.49 L255.41 454.64 L262.64 454.64 L262.64 454.64 L269.88 454.64 L269.88 463.87 L277.11 463.87 L277.11 468.02 L284.34 468.02 L284.34 470.79 L291.57 470.79 L291.57 473.10 L298.81 473.10 L298.81 473.10 L306.04 473.10 L306.04 473.10 L313.27 473.10 L313.27 473.10 L320.50 473.10 L320.50 473.10 L327.73 473.10 L327.73 473.10 L334.97 473.10 L334.97 473.10 L342.20 473.10 L342.20 473.10 Z"/></clipPath>
<g opacity="0.3" clip-path="url(#c2c4)">
<rect x="88.06" y="413.43" width="204.51" height="60.67" fill="#2ca02c"/>
<g fill="#2ca02c" stroke="#fff" stroke-width="0.95"><circle cx="195.40" cy="412.62" r="1.0"/><circle cx="204.81" cy="412.62" r="1.0"/><circle cx="171.88" cy="422.03" r="1.0"/><circle cx="181.28" cy="422.03" r="1.0"/><circle cx="190.69" cy="422.03" r="1.0"/><circle cx="200.10" cy="422.03" r="1.0"/><circle cx="209.52" cy="422.03" r="1.0"/><circle cx="218.93" cy="422.03" r="1.0"/><circle cx="228.34" cy="422.03" r="1.0"/><circle cx="157.76" cy="431.44" r="1.0"/><circle cx="167.17" cy="431.44" r="1.0"/><circle cx="176.58" cy="431.44" r="1.0"/><circle cx="185.99" cy="431.44" r="1.0"/><circle cx="195.40" cy="431.44" r="1.0"/><circle cx="204.81" cy="431.44" r="1.0"/><circle cx="214.22" cy="431.44" r="1.0"/><circle cx="223.63" cy="431.44" r="1.0"/><circle cx="233.04" cy="431.44" r="1.0"/><circle cx="153.06" cy="440.85" r="1.0"/><circle cx="162.47" cy="440.85" r="1.0"/><circle cx="171.88" cy="440.85" r="1.0"/><circle cx="181.28" cy="440.85" r="1.0"/><circle cx="190.69" cy="440.85" r="1.0"/><circle cx="200.10" cy="440.85" r="1.0"/><circle cx="209.52" cy="440.85" r="1.0"/><circle cx="218.93" cy="440.85" r="1.0"/><circle cx="228.34" cy="440.85" r="1.0"/><circle cx="237.75" cy="440.85" r="1.0"/><circle cx="247.16" cy="440.85" r="1.0"/><circle cx="129.53" cy="450.26" r="1.0"/><circle cx="138.94" cy="450.26" r="1.0"/><circle cx="148.35" cy="450.26" r="1.0"/><circle cx="157.76" cy="450.26" r="1.0"/><circle cx="167.17" cy="450.26" r="1.0"/><circle cx="176.58" cy="450.26" r="1.0"/><circle cx="185.99" cy="450.26" r="1.0"/><circle cx="195.40" cy="450.26" r="1.0"/><circle cx="204.81" cy="450.26" r="1.0"/><circle cx="214.22" cy="450.26" r="1.0"/><circle cx="223.63" cy="450.26" r="1.0"/><circle cx="233.04" cy="450.26" r="1.0"/><circle cx="242.45" cy="450.26" r="1.0"/><circle cx="251.86" cy="450.26" r="1.0"/><circle cx="261.27" cy="450.26" r="1.0"/><circle cx="115.42" cy="459.67" r="1.0"/><circle cx="124.83" cy="459.67" r="1.0"/><circle cx="134.24" cy="459.67" r="1.0"/><circle cx="143.65" cy="459.67" r="1.0"/><circle cx="153.06" cy="459.67" r="1.0"/><circle cx="162.47" cy="459.67" r="1.0"/><circle cx="171.88" cy="459.67" r="1.0"/><circle cx="181.28" cy="459.67" r="1.0"/><circle cx="190.69" cy="459.67" r="1.0"/><circle cx="200.10" cy="459.67" r="1.0"/><circle cx="209.52" cy="459.67" r="1.0"/><circle cx="218.93" cy="459.67" r="1.0"/><circle cx="228.34" cy="459.67" r="1.0"/><circle cx="237.75" cy="459.67" r="1.0"/><circle cx="247.16" cy="459.67" r="1.0"/><circle cx="256.56" cy="459.67" r="1.0"/><circle cx="265.98" cy="459.67" r="1.0"/><circle cx="275.38" cy="459.67" r="1.0"/><circle cx="91.89" cy="469.08" r="1.0"/><circle cx="101.30" cy="469.08" r="1.0"/><circle cx="110.71" cy="469.08" r="1.0"/><circle cx="120.12" cy="469.08" r="1.0"/><circle cx="129.53" cy="469.08" r="1.0"/><circle cx="138.94" cy="469.08" r="1.0"/><circle cx="148.35" cy="469.08" r="1.0"/><circle cx="157.76" cy="469.08" r="1.0"/><circle cx="167.17" cy="469.08" r="1.0"/><circle cx="176.58" cy="469.08" r="1.0"/><circle cx="185.99" cy="469.08" r="1.0"/><circle cx="195.40" cy="469.08" r="1.0"/><circle cx="204.81" cy="469.08" r="1.0"/><circle cx="214.22" cy="469.08" r="1.0"/><circle cx="223.63" cy="469.08" r="1.0"/><circle cx="233.04" cy="469.08" r="1.0"/><circle cx="242.45" cy="469.08" r="1.0"/><circle cx="251.86" cy="469.08" r="1.0"/><circle cx="261.27" cy="469.08" r="1.0"/><circle cx="270.68" cy="469.08" r="1.0"/><circle cx="280.09" cy="469.08" r="1.0"/><circle cx="289.50" cy="469.08" r="1.0"/></g>
</g>
<path d="M52.90 473.10 L52.90 473.10 L60.13 473.10 L60.13 473.10 L67.36 473.10 L67.36 473.10 L74.60 473.10 L74.60 473.10 L81.83 473.10 L81.83 468.02 L89.06 468.02 L89.06 468.02 L96.29 468.02 L96.29 460.03 L103.53 460.03 L103.53 466.95 L110.76 466.95 L110.76 444.03 L117.99 444.03 L117.99 455.11 L125.22 455.11 L125.22 446.49 L132.46 446.49 L132.46 444.03 L139.69 444.03 L139.69 444.03 L146.92 444.03 L146.92 435.65 L154.16 435.65 L154.16 416.96 L161.39 416.96 L161.39 416.96 L168.62 416.96 L168.62 411.58 L175.85 411.58 L175.85 396.20 L183.09 396.20 L183.09 403.89 L190.32 403.89 L190.32 390.82 L197.55 390.82 L197.55 395.43 L204.78 395.43 L204.78 414.66 L212.02 414.66 L212.02 414.66 L219.25 414.66 L219.25 440.42 L226.48 440.42 L226.48 448.49 L233.71 448.49 L233.71 465.41 L240.94 465.41 L240.94 461.87 L248.18 461.87 L248.18 465.41 L255.41 465.41 L255.41 473.10 L262.64 473.10 L262.64 468.02 L269.88 468.02 L269.88 473.10 L277.11 473.10 L277.11 473.10 L284.34 473.10 L284.34 473.10 L291.57 473.10 L291.57 473.10 L298.81 473.10 L298.81 473.10 L306.04 473.10 L306.04 473.10 L313.27 473.10 L313.27 473.10 L320.50 473.10 L320.50 473.10 L327.73 473.10 L327.73 473.10 L334.97 473.10 L334.97 473.10 L342.20 473.10 L342.20 473.10" fill="none" stroke="#1f77b4" stroke-width="1.6" stroke-linejoin="miter" stroke-dasharray="1.6 1.65"/>
<path d="M52.90 473.10 L52.90 473.10 L60.13 473.10 L60.13 473.10 L67.36 473.10 L67.36 473.10 L74.60 473.10 L74.60 473.10 L81.83 473.10 L81.83 473.10 L89.06 473.10 L89.06 473.10 L96.29 473.10 L96.29 473.10 L103.53 473.10 L103.53 473.10 L110.76 473.10 L110.76 472.10 L117.99 472.10 L117.99 472.10 L125.22 472.10 L125.22 465.41 L132.46 465.41 L132.46 465.41 L139.69 465.41 L139.69 464.64 L146.92 464.64 L146.92 452.64 L154.16 452.64 L154.16 439.26 L161.39 439.26 L161.39 444.65 L168.62 444.65 L168.62 434.65 L175.85 434.65 L175.85 416.42 L183.09 416.42 L183.09 421.58 L190.32 421.58 L190.32 399.05 L197.55 399.05 L197.55 392.36 L204.78 392.36 L204.78 410.81 L212.02 410.81 L212.02 375.98 L219.25 375.98 L219.25 398.51 L226.48 398.51 L226.48 401.58 L233.71 401.58 L233.71 413.35 L240.94 413.35 L240.94 435.42 L248.18 435.42 L248.18 436.19 L255.41 436.19 L255.41 459.80 L262.64 459.80 L262.64 467.41 L269.88 467.41 L269.88 465.41 L277.11 465.41 L277.11 473.10 L284.34 473.10 L284.34 466.56 L291.57 466.56 L291.57 473.10 L298.81 473.10 L298.81 472.10 L306.04 472.10 L306.04 473.10 L313.27 473.10 L313.27 473.10 L320.50 473.10 L320.50 473.10 L327.73 473.10 L327.73 473.10 L334.97 473.10 L334.97 473.10 L342.20 473.10 L342.20 473.10" fill="none" stroke="#ff7f0e" stroke-width="1.5" stroke-linejoin="miter" stroke-dasharray="5.5 1.5 1.2 1.5"/>
<path d="M52.90 473.10 L52.90 473.10 L60.13 473.10 L60.13 473.10 L67.36 473.10 L67.36 473.10 L74.60 473.10 L74.60 473.10 L81.83 473.10 L81.83 473.10 L89.06 473.10 L89.06 473.10 L96.29 473.10 L96.29 473.10 L103.53 473.10 L103.53 473.10 L110.76 473.10 L110.76 473.10 L117.99 473.10 L117.99 473.10 L125.22 473.10 L125.22 473.10 L132.46 473.10 L132.46 473.10 L139.69 473.10 L139.69 472.10 L146.92 472.10 L146.92 466.56 L154.16 466.56 L154.16 466.56 L161.39 466.56 L161.39 454.64 L168.62 454.64 L168.62 441.57 L175.85 441.57 L175.85 431.19 L183.09 431.19 L183.09 440.96 L190.32 440.96 L190.32 421.96 L197.55 421.96 L197.55 409.73 L204.78 409.73 L204.78 409.73 L212.02 409.73 L212.02 363.90 L219.25 363.90 L219.25 345.91 L226.48 345.91 L226.48 391.59 L233.71 391.59 L233.71 413.35 L240.94 413.35 L240.94 398.51 L248.18 398.51 L248.18 426.96 L255.41 426.96 L255.41 449.26 L262.64 449.26 L262.64 449.26 L269.88 449.26 L269.88 465.95 L277.11 465.95 L277.11 470.02 L284.34 470.02 L284.34 473.10 L291.57 473.10 L291.57 473.10 L298.81 473.10 L298.81 473.10 L306.04 473.10 L306.04 473.10 L313.27 473.10 L313.27 473.10 L320.50 473.10 L320.50 473.10 L327.73 473.10 L327.73 473.10 L334.97 473.10 L334.97 473.10 L342.20 473.10 L342.20 473.10" fill="none" stroke="#2ca02c" stroke-width="1.55" stroke-linejoin="miter"/>
</g>
<path d="M44.63 473.1 v-1.6 M44.63 339.8 v1.6 M52.90 473.1 v-3.0 M52.90 339.8 v3.0 M61.17 473.1 v-1.6 M61.17 339.8 v1.6 M69.43 473.1 v-1.6 M69.43 339.8 v1.6 M77.70 473.1 v-1.6 M77.70 339.8 v1.6 M85.96 473.1 v-1.6 M85.96 339.8 v1.6 M94.23 473.1 v-3.0 M94.23 339.8 v3.0 M102.49 473.1 v-1.6 M102.49 339.8 v1.6 M110.76 473.1 v-1.6 M110.76 339.8 v1.6 M119.03 473.1 v-1.6 M119.03 339.8 v1.6 M127.29 473.1 v-1.6 M127.29 339.8 v1.6 M135.56 473.1 v-3.0 M135.56 339.8 v3.0 M143.82 473.1 v-1.6 M143.82 339.8 v1.6 M152.09 473.1 v-1.6 M152.09 339.8 v1.6 M160.35 473.1 v-1.6 M160.35 339.8 v1.6 M168.62 473.1 v-1.6 M168.62 339.8 v1.6 M176.89 473.1 v-3.0 M176.89 339.8 v3.0 M185.15 473.1 v-1.6 M185.15 339.8 v1.6 M193.42 473.1 v-1.6 M193.42 339.8 v1.6 M201.68 473.1 v-1.6 M201.68 339.8 v1.6 M209.95 473.1 v-1.6 M209.95 339.8 v1.6 M218.21 473.1 v-3.0 M218.21 339.8 v3.0 M226.48 473.1 v-1.6 M226.48 339.8 v1.6 M234.75 473.1 v-1.6 M234.75 339.8 v1.6 M243.01 473.1 v-1.6 M243.01 339.8 v1.6 M251.28 473.1 v-1.6 M251.28 339.8 v1.6 M259.54 473.1 v-3.0 M259.54 339.8 v3.0 M267.81 473.1 v-1.6 M267.81 339.8 v1.6 M276.07 473.1 v-1.6 M276.07 339.8 v1.6 M284.34 473.1 v-1.6 M284.34 339.8 v1.6 M292.61 473.1 v-1.6 M292.61 339.8 v1.6 M300.87 473.1 v-3.0 M300.87 339.8 v3.0 M309.14 473.1 v-1.6 M309.14 339.8 v1.6 M317.40 473.1 v-1.6 M317.40 339.8 v1.6 M325.67 473.1 v-1.6 M325.67 339.8 v1.6 M333.93 473.1 v-1.6 M333.93 339.8 v1.6 M342.20 473.1 v-3.0 M342.20 339.8 v3.0 M350.47 473.1 v-1.6 M350.47 339.8 v1.6 M38.4 473.10 h3.0 M356.6 473.10 h-3.0 M38.4 465.41 h1.6 M356.6 465.41 h-1.6 M38.4 457.72 h1.6 M356.6 457.72 h-1.6 M38.4 450.03 h1.6 M356.6 450.03 h-1.6 M38.4 442.34 h1.6 M356.6 442.34 h-1.6 M38.4 434.65 h3.0 M356.6 434.65 h-3.0 M38.4 426.96 h1.6 M356.6 426.96 h-1.6 M38.4 419.27 h1.6 M356.6 419.27 h-1.6 M38.4 411.58 h1.6 M356.6 411.58 h-1.6 M38.4 403.89 h1.6 M356.6 403.89 h-1.6 M38.4 396.20 h3.0 M356.6 396.20 h-3.0 M38.4 388.51 h1.6 M356.6 388.51 h-1.6 M38.4 380.82 h1.6 M356.6 380.82 h-1.6 M38.4 373.13 h1.6 M356.6 373.13 h-1.6 M38.4 365.44 h1.6 M356.6 365.44 h-1.6 M38.4 357.75 h3.0 M356.6 357.75 h-3.0 M38.4 350.06 h1.6 M356.6 350.06 h-1.6 M38.4 342.37 h1.6 M356.6 342.37 h-1.6" stroke="#262626" stroke-width="0.75" fill="none"/>
<rect x="38.4" y="339.8" width="318.20000000000005" height="133.3" fill="none" stroke="#262626" stroke-width="0.75"/>
<g font-family="DejaVu Sans, Liberation Sans, sans-serif" font-size="11.7" fill="#000" stroke="#000" stroke-width="0.2">
<text x="52.90" y="485.10" text-anchor="middle">7.0</text>
<text x="94.23" y="485.10" text-anchor="middle">7.5</text>
<text x="135.56" y="485.10" text-anchor="middle">8.0</text>
<text x="176.89" y="485.10" text-anchor="middle">8.5</text>
<text x="218.21" y="485.10" text-anchor="middle">9.0</text>
<text x="259.54" y="485.10" text-anchor="middle">9.5</text>
<text x="300.87" y="485.10" text-anchor="middle">10.0</text>
<text x="342.20" y="485.10" text-anchor="middle">10.5</text>
<text x="35.50" y="477.60" text-anchor="end">0.0</text>
<text x="35.50" y="439.15" text-anchor="end">0.5</text>
<text x="35.50" y="400.70" text-anchor="end">1.0</text>
<text x="35.50" y="362.25" text-anchor="end">1.5</text>
</g>
<text transform="translate(10.6 406.45) rotate(-90)" text-anchor="middle" font-family="DejaVu Sans, Liberation Sans, sans-serif" font-size="14.1" fill="#000" stroke="#000" stroke-width="0.2">density</text>
</g>
<g>
<clipPath id="cp3"><rect x="38.4" y="509.4" width="318.20000000000005" height="133.3"/></clipPath>
<g clip-path="url(#cp3)">
<clipPath id="c3hb"><path d="M52.90 642.70 L52.90 642.70 L60.13 642.70 L60.13 642.70 L67.36 642.70 L67.36 642.70 L74.60 642.70 L74.60 642.70 L81.83 642.70 L81.83 642.70 L89.06 642.70 L89.06 642.70 L96.29 642.70 L96.29 642.70 L103.53 642.70 L103.53 642.70 L110.76 642.70 L110.76 641.24 L117.99 641.24 L117.99 638.25 L125.22 638.25 L125.22 635.10 L132.46 635.10 L132.46 625.95 L139.69 625.95 L139.69 620.86 L146.92 620.86 L146.92 611.55 L154.16 611.55 L154.16 605.49 L161.39 605.49 L161.39 597.40 L168.62 597.40 L168.62 591.17 L175.85 591.17 L175.85 584.45 L183.09 584.45 L183.09 577.98 L190.32 577.98 L190.32 575.80 L197.55 575.80 L197.55 573.94 L204.78 573.94 L204.78 579.60 L212.02 579.60 L212.02 586.88 L219.25 586.88 L219.25 594.97 L226.48 594.97 L226.48 603.87 L233.71 603.87 L233.71 612.77 L240.94 612.77 L240.94 620.86 L248.18 620.86 L248.18 627.33 L255.41 627.33 L255.41 632.99 L262.64 632.99 L262.64 637.04 L269.88 637.04 L269.88 639.46 L277.11 639.46 L277.11 641.08 L284.34 641.08 L284.34 642.70 L291.57 642.70 L291.57 642.70 L298.81 642.70 L298.81 642.70 L306.04 642.70 L306.04 642.70 L313.27 642.70 L313.27 642.70 L320.50 642.70 L320.50 642.70 L327.73 642.70 L327.73 642.70 L334.97 642.70 L334.97 642.70 L342.20 642.70 L342.20 642.70 Z"/></clipPath>
<g opacity="0.3" clip-path="url(#c3hb)">
<rect x="109.76" y="572.94" width="175.58" height="70.76" fill="#1f77b4"/>
<path d="M109.76 573.54L110.37 572.94M109.76 582.95L119.77 572.94M109.76 592.36L129.18 572.94M109.76 601.77L138.60 572.94M109.76 611.18L148.00 572.94M109.76 620.59L157.41 572.94M109.76 630.00L166.82 572.94M109.76 639.41L176.24 572.94M114.88 643.70L185.64 572.94M124.29 643.70L195.05 572.94M133.70 643.70L204.46 572.94M143.11 643.70L213.88 572.94M152.52 643.70L223.28 572.94M161.93 643.70L232.69 572.94M171.34 643.70L242.11 572.94M180.75 643.70L251.51 572.94M190.16 643.70L260.92 572.94M199.57 643.70L270.33 572.94M208.98 643.70L279.75 572.94M218.39 643.70L285.34 576.75M227.80 643.70L285.34 586.16M237.21 643.70L285.34 595.57M246.62 643.70L285.34 604.98M256.03 643.70L285.34 614.39M265.44 643.70L285.34 623.80M274.85 643.70L285.34 633.21M284.26 643.70L285.34 642.62" stroke="#fff" stroke-width="1.1" fill="none"/>
</g>
<clipPath id="c3mg"><path d="M52.90 642.70 L52.90 642.70 L60.13 642.70 L60.13 642.70 L67.36 642.70 L67.36 642.70 L74.60 642.70 L74.60 642.70 L81.83 642.70 L81.83 642.70 L89.06 642.70 L89.06 642.70 L96.29 642.70 L96.29 642.70 L103.53 642.70 L103.53 642.70 L110.76 642.70 L110.76 641.24 L117.99 641.24 L117.99 638.25 L125.22 638.25 L125.22 635.10 L132.46 635.10 L132.46 625.95 L139.69 625.95 L139.69 620.86 L146.92 620.86 L146.92 613.58 L154.16 613.58 L154.16 605.49 L161.39 605.49 L161.39 597.40 L168.62 597.40 L168.62 591.17 L175.85 591.17 L175.85 584.45 L183.09 584.45 L183.09 577.98 L190.32 577.98 L190.32 575.80 L197.55 575.80 L197.55 573.94 L204.78 573.94 L204.78 579.60 L212.02 579.60 L212.02 586.88 L219.25 586.88 L219.25 594.97 L226.48 594.97 L226.48 603.87 L233.71 603.87 L233.71 612.77 L240.94 612.77 L240.94 620.86 L248.18 620.86 L248.18 627.33 L255.41 627.33 L255.41 632.99 L262.64 632.99 L262.64 637.04 L269.88 637.04 L269.88 639.46 L277.11 639.46 L277.11 641.08 L284.34 641.08 L284.34 642.70 L291.57 642.70 L291.57 642.70 L298.81 642.70 L298.81 642.70 L306.04 642.70 L306.04 642.70 L313.27 642.70 L313.27 642.70 L320.50 642.70 L320.50 642.70 L327.73 642.70 L327.73 642.70 L334.97 642.70 L334.97 642.70 L342.20 642.70 L342.20 642.70 Z"/></clipPath>
<g opacity="0.3" clip-path="url(#c3mg)">
<rect x="109.76" y="572.94" width="175.58" height="70.76" fill="#ff7f0e"/>
<path d="M109.76 637.51L115.95 643.70M109.76 628.10L125.36 643.70M109.76 618.69L134.77 643.70M109.76 609.28L144.18 643.70M109.76 599.87L153.59 643.70M109.76 590.46L163.00 643.70M109.76 581.05L172.41 643.70M111.06 572.94L181.82 643.70M120.47 572.94L191.23 643.70M129.88 572.94L200.64 643.70M139.29 572.94L210.05 643.70M148.70 572.94L219.46 643.70M158.11 572.94L228.87 643.70M167.52 572.94L238.28 643.70M176.93 572.94L247.69 643.70M186.34 572.94L257.10 643.70M195.75 572.94L266.51 643.70M205.16 572.94L275.92 643.70M214.57 572.94L285.33 643.70M223.98 572.94L285.34 634.30M233.39 572.94L285.34 624.89M242.80 572.94L285.34 615.48M252.21 572.94L285.34 606.07M261.62 572.94L285.34 596.66M271.03 572.94L285.34 587.25M280.44 572.94L285.34 577.84" stroke="#fff" stroke-width="1.1" fill="none"/>
</g>
<clipPath id="c3c4"><path d="M52.90 642.70 L52.90 642.70 L60.13 642.70 L60.13 642.70 L67.36 642.70 L67.36 642.70 L74.60 642.70 L74.60 642.70 L81.83 642.70 L81.83 642.70 L89.06 642.70 L89.06 642.70 L96.29 642.70 L96.29 642.70 L103.53 642.70 L103.53 642.70 L110.76 642.70 L110.76 642.70 L117.99 642.70 L117.99 642.70 L125.22 642.70 L125.22 642.70 L132.46 642.70 L132.46 642.70 L139.69 642.70 L139.69 642.70 L146.92 642.70 L146.92 642.70 L154.16 642.70 L154.16 642.70 L161.39 642.70 L161.39 638.25 L168.62 638.25 L168.62 628.95 L175.85 628.95 L175.85 618.75 L183.09 618.75 L183.09 604.43 L190.32 604.43 L190.32 591.17 L197.55 591.17 L197.55 575.80 L204.78 575.80 L204.78 560.42 L212.02 560.42 L212.02 555.33 L219.25 555.33 L219.25 560.99 L226.48 560.99 L226.48 571.67 L233.71 571.67 L233.71 586.07 L240.94 586.07 L240.94 596.26 L248.18 596.26 L248.18 604.84 L255.41 604.84 L255.41 611.96 L262.64 611.96 L262.64 619.40 L269.88 619.40 L269.88 625.95 L277.11 625.95 L277.11 631.05 L284.34 631.05 L284.34 635.10 L291.57 635.10 L291.57 637.85 L298.81 637.85 L298.81 639.63 L306.04 639.63 L306.04 641.08 L313.27 641.08 L313.27 641.49 L320.50 641.49 L320.50 642.70 L327.73 642.70 L327.73 642.70 L334.97 642.70 L334.97 642.70 L342.20 642.70 L342.20 642.70 Z"/></clipPath>
<g opacity="0.3" clip-path="url(#c3c4)">
<rect x="160.39" y="554.33" width="161.12" height="89.37" fill="#2ca02c"/>
<g fill="#2ca02c" stroke="#fff" stroke-width="0.95"><circle cx="209.52" cy="553.77" r="1.0"/><circle cx="218.93" cy="553.77" r="1.0"/><circle cx="204.81" cy="563.18" r="1.0"/><circle cx="214.22" cy="563.18" r="1.0"/><circle cx="223.63" cy="563.18" r="1.0"/><circle cx="233.04" cy="563.18" r="1.0"/><circle cx="200.10" cy="572.59" r="1.0"/><circle cx="209.52" cy="572.59" r="1.0"/><circle cx="218.93" cy="572.59" r="1.0"/><circle cx="228.34" cy="572.59" r="1.0"/><circle cx="237.75" cy="572.59" r="1.0"/><circle cx="195.40" cy="582.00" r="1.0"/><circle cx="204.81" cy="582.00" r="1.0"/><circle cx="214.22" cy="582.00" r="1.0"/><circle cx="223.63" cy="582.00" r="1.0"/><circle cx="233.04" cy="582.00" r="1.0"/><circle cx="190.69" cy="591.41" r="1.0"/><circle cx="200.10" cy="591.41" r="1.0"/><circle cx="209.52" cy="591.41" r="1.0"/><circle cx="218.93" cy="591.41" r="1.0"/><circle cx="228.34" cy="591.41" r="1.0"/><circle cx="237.75" cy="591.41" r="1.0"/><circle cx="247.16" cy="591.41" r="1.0"/><circle cx="185.99" cy="600.82" r="1.0"/><circle cx="195.40" cy="600.82" r="1.0"/><circle cx="204.81" cy="600.82" r="1.0"/><circle cx="214.22" cy="600.82" r="1.0"/><circle cx="223.63" cy="600.82" r="1.0"/><circle cx="233.04" cy="600.82" r="1.0"/><circle cx="242.45" cy="600.82" r="1.0"/><circle cx="251.86" cy="600.82" r="1.0"/><circle cx="181.28" cy="610.23" r="1.0"/><circle cx="190.69" cy="610.23" r="1.0"/><circle cx="200.10" cy="610.23" r="1.0"/><circle cx="209.52" cy="610.23" r="1.0"/><circle cx="218.93" cy="610.23" r="1.0"/><circle cx="228.34" cy="610.23" r="1.0"/><circle cx="237.75" cy="610.23" r="1.0"/><circle cx="247.16" cy="610.23" r="1.0"/><circle cx="256.56" cy="610.23" r="1.0"/><circle cx="265.98" cy="610.23" r="1.0"/><circle cx="176.58" cy="619.64" r="1.0"/><circle cx="185.99" cy="619.64" r="1.0"/><circle cx="195.40" cy="619.64" r="1.0"/><circle cx="204.81" cy="619.64" r="1.0"/><circle cx="214.22" cy="619.64" r="1.0"/><circle cx="223.63" cy="619.64" r="1.0"/><circle cx="233.04" cy="619.64" r="1.0"/><circle cx="242.45" cy="619.64" r="1.0"/><circle cx="251.86" cy="619.64" r="1.0"/><circle cx="261.27" cy="619.64" r="1.0"/><circle cx="270.68" cy="619.64" r="1.0"/><circle cx="162.47" cy="629.05" r="1.0"/><circle cx="171.88" cy="629.05" r="1.0"/><circle cx="181.28" cy="629.05" r="1.0"/><circle cx="190.69" cy="629.05" r="1.0"/><circle cx="200.10" cy="629.05" r="1.0"/><circle cx="209.52" cy="629.05" r="1.0"/><circle cx="218.93" cy="629.05" r="1.0"/><circle cx="228.34" cy="629.05" r="1.0"/><circle cx="237.75" cy="629.05" r="1.0"/><circle cx="247.16" cy="629.05" r="1.0"/><circle cx="256.56" cy="629.05" r="1.0"/><circle cx="265.98" cy="629.05" r="1.0"/><circle cx="275.38" cy="629.05" r="1.0"/><circle cx="167.17" cy="638.46" r="1.0"/><circle cx="176.58" cy="638.46" r="1.0"/><circle cx="185.99" cy="638.46" r="1.0"/><circle cx="195.40" cy="638.46" r="1.0"/><circle cx="204.81" cy="638.46" r="1.0"/><circle cx="214.22" cy="638.46" r="1.0"/><circle cx="223.63" cy="638.46" r="1.0"/><circle cx="233.04" cy="638.46" r="1.0"/><circle cx="242.45" cy="638.46" r="1.0"/><circle cx="251.86" cy="638.46" r="1.0"/><circle cx="261.27" cy="638.46" r="1.0"/><circle cx="270.68" cy="638.46" r="1.0"/><circle cx="280.09" cy="638.46" r="1.0"/><circle cx="289.50" cy="638.46" r="1.0"/><circle cx="298.91" cy="638.46" r="1.0"/><circle cx="308.32" cy="638.46" r="1.0"/></g>
</g>
<path d="M52.90 642.70 L52.90 642.70 L60.13 642.70 L60.13 642.70 L67.36 642.70 L67.36 642.70 L74.60 642.70 L74.60 642.70 L81.83 642.70 L81.83 642.70 L89.06 642.70 L89.06 642.70 L96.29 642.70 L96.29 642.70 L103.53 642.70 L103.53 640.68 L110.76 640.68 L110.76 640.68 L117.99 640.68 L117.99 628.38 L125.22 628.38 L125.22 634.12 L132.46 634.12 L132.46 604.43 L139.69 604.43 L139.69 601.44 L146.92 601.44 L146.92 589.06 L154.16 589.06 L154.16 566.98 L161.39 566.98 L161.39 573.69 L168.62 573.69 L168.62 579.27 L175.85 579.27 L175.85 544.65 L183.09 544.65 L183.09 556.30 L190.32 556.30 L190.32 573.69 L197.55 573.69 L197.55 589.06 L204.78 589.06 L204.78 603.38 L212.02 603.38 L212.02 618.75 L219.25 618.75 L219.25 619.24 L226.48 619.24 L226.48 615.68 L233.71 615.68 L233.71 632.51 L240.94 632.51 L240.94 637.20 L248.18 637.20 L248.18 642.70 L255.41 642.70 L255.41 642.70 L262.64 642.70 L262.64 642.70 L269.88 642.70 L269.88 642.70 L277.11 642.70 L277.11 642.70 L284.34 642.70 L284.34 642.70 L291.57 642.70 L291.57 642.70 L298.81 642.70 L298.81 642.70 L306.04 642.70 L306.04 642.70 L313.27 642.70 L313.27 642.70 L320.50 642.70 L320.50 642.70 L327.73 642.70 L327.73 642.70 L334.97 642.70 L334.97 642.70 L342.20 642.70 L342.20 642.70" fill="none" stroke="#1f77b4" stroke-width="1.6" stroke-linejoin="miter" stroke-dasharray="1.6 1.65"/>
<path d="M52.90 642.70 L52.90 642.70 L60.13 642.70 L60.13 642.70 L67.36 642.70 L67.36 642.70 L74.60 642.70 L74.60 642.70 L81.83 642.70 L81.83 642.70 L89.06 642.70 L89.06 642.70 L96.29 642.70 L96.29 642.70 L103.53 642.70 L103.53 642.70 L110.76 642.70 L110.76 639.87 L117.99 639.87 L117.99 640.27 L125.22 640.27 L125.22 635.10 L132.46 635.10 L132.46 621.83 L139.69 621.83 L139.69 620.86 L146.92 620.86 L146.92 603.38 L154.16 603.38 L154.16 574.74 L161.39 574.74 L161.39 591.17 L168.62 591.17 L168.62 571.10 L175.85 571.10 L175.85 561.80 L183.09 561.80 L183.09 549.18 L190.32 549.18 L190.32 550.80 L197.55 550.80 L197.55 554.68 L204.78 554.68 L204.78 575.80 L212.02 575.80 L212.02 594.16 L219.25 594.16 L219.25 618.75 L226.48 618.75 L226.48 631.05 L233.71 631.05 L233.71 634.61 L240.94 634.61 L240.94 639.22 L248.18 639.22 L248.18 640.27 L255.41 640.27 L255.41 641.24 L262.64 641.24 L262.64 641.24 L269.88 641.24 L269.88 641.24 L277.11 641.24 L277.11 642.70 L284.34 642.70 L284.34 642.70 L291.57 642.70 L291.57 642.70 L298.81 642.70 L298.81 642.70 L306.04 642.70 L306.04 642.70 L313.27 642.70 L313.27 642.70 L320.50 642.70 L320.50 642.70 L327.73 642.70 L327.73 642.70 L334.97 642.70 L334.97 642.70 L342.20 642.70 L342.20 642.70" fill="none" stroke="#ff7f0e" stroke-width="1.5" stroke-linejoin="miter" stroke-dasharray="5.5 1.5 1.2 1.5"/>
<path d="M52.90 642.70 L52.90 642.70 L60.13 642.70 L60.13 642.70 L67.36 642.70 L67.36 642.70 L74.60 642.70 L74.60 642.70 L81.83 642.70 L81.83 642.70 L89.06 642.70 L89.06 642.70 L96.29 642.70 L96.29 642.70 L103.53 642.70 L103.53 642.70 L110.76 642.70 L110.76 642.70 L117.99 642.70 L117.99 642.70 L125.22 642.70 L125.22 642.70 L132.46 642.70 L132.46 640.27 L139.69 640.27 L139.69 641.24 L146.92 641.24 L146.92 641.24 L154.16 641.24 L154.16 641.24 L161.39 641.24 L161.39 636.55 L168.62 636.55 L168.62 642.70 L175.85 642.70 L175.85 626.92 L183.09 626.92 L183.09 584.45 L190.32 584.45 L190.32 596.59 L197.55 596.59 L197.55 554.68 L204.78 554.68 L204.78 515.44 L212.02 515.44 L212.02 541.58 L219.25 541.58 L219.25 515.85 L226.48 515.85 L226.48 555.33 L233.71 555.33 L233.71 577.98 L240.94 577.98 L240.94 625.95 L248.18 625.95 L248.18 620.21 L255.41 620.21 L255.41 630.00 L262.64 630.00 L262.64 634.12 L269.88 634.12 L269.88 637.20 L277.11 637.20 L277.11 642.70 L284.34 642.70 L284.34 636.55 L291.57 636.55 L291.57 642.70 L298.81 642.70 L298.81 642.70 L306.04 642.70 L306.04 642.70 L313.27 642.70 L313.27 642.70 L320.50 642.70 L320.50 642.70 L327.73 642.70 L327.73 642.70 L334.97 642.70 L334.97 642.70 L342.20 642.70 L342.20 642.70" fill="none" stroke="#2ca02c" stroke-width="1.55" stroke-linejoin="miter"/>
</g>
<path d="M38.43 642.7 v-1.6 M38.43 509.4 v1.6 M45.67 642.7 v-1.6 M45.67 509.4 v1.6 M52.90 642.7 v-3.0 M52.90 509.4 v3.0 M60.13 642.7 v-1.6 M60.13 509.4 v1.6 M67.36 642.7 v-1.6 M67.36 509.4 v1.6 M74.60 642.7 v-1.6 M74.60 509.4 v1.6 M81.83 642.7 v-1.6 M81.83 509.4 v1.6 M89.06 642.7 v-3.0 M89.06 509.4 v3.0 M96.29 642.7 v-1.6 M96.29 509.4 v1.6 M103.53 642.7 v-1.6 M103.53 509.4 v1.6 M110.76 642.7 v-1.6 M110.76 509.4 v1.6 M117.99 642.7 v-1.6 M117.99 509.4 v1.6 M125.22 642.7 v-3.0 M125.22 509.4 v3.0 M132.46 642.7 v-1.6 M132.46 509.4 v1.6 M139.69 642.7 v-1.6 M139.69 509.4 v1.6 M146.92 642.7 v-1.6 M146.92 509.4 v1.6 M154.16 642.7 v-1.6 M154.16 509.4 v1.6 M161.39 642.7 v-3.0 M161.39 509.4 v3.0 M168.62 642.7 v-1.6 M168.62 509.4 v1.6 M175.85 642.7 v-1.6 M175.85 509.4 v1.6 M183.09 642.7 v-1.6 M183.09 509.4 v1.6 M190.32 642.7 v-1.6 M190.32 509.4 v1.6 M197.55 642.7 v-3.0 M197.55 509.4 v3.0 M204.78 642.7 v-1.6 M204.78 509.4 v1.6 M212.02 642.7 v-1.6 M212.02 509.4 v1.6 M219.25 642.7 v-1.6 M219.25 509.4 v1.6 M226.48 642.7 v-1.6 M226.48 509.4 v1.6 M233.71 642.7 v-3.0 M233.71 509.4 v3.0 M240.94 642.7 v-1.6 M240.94 509.4 v1.6 M248.18 642.7 v-1.6 M248.18 509.4 v1.6 M255.41 642.7 v-1.6 M255.41 509.4 v1.6 M262.64 642.7 v-1.6 M262.64 509.4 v1.6 M269.88 642.7 v-3.0 M269.88 509.4 v3.0 M277.11 642.7 v-1.6 M277.11 509.4 v1.6 M284.34 642.7 v-1.6 M284.34 509.4 v1.6 M291.57 642.7 v-1.6 M291.57 509.4 v1.6 M298.81 642.7 v-1.6 M298.81 509.4 v1.6 M306.04 642.7 v-3.0 M306.04 509.4 v3.0 M313.27 642.7 v-1.6 M313.27 509.4 v1.6 M320.50 642.7 v-1.6 M320.50 509.4 v1.6 M327.73 642.7 v-1.6 M327.73 509.4 v1.6 M334.97 642.7 v-1.6 M334.97 509.4 v1.6 M342.20 642.7 v-3.0 M342.20 509.4 v3.0 M349.43 642.7 v-1.6 M349.43 509.4 v1.6 M38.4 642.70 h3.0 M356.6 642.70 h-3.0 M38.4 634.61 h1.6 M356.6 634.61 h-1.6 M38.4 626.52 h1.6 M356.6 626.52 h-1.6 M38.4 618.43 h1.6 M356.6 618.43 h-1.6 M38.4 610.34 h1.6 M356.6 610.34 h-1.6 M38.4 602.25 h3.0 M356.6 602.25 h-3.0 M38.4 594.16 h1.6 M356.6 594.16 h-1.6 M38.4 586.07 h1.6 M356.6 586.07 h-1.6 M38.4 577.98 h1.6 M356.6 577.98 h-1.6 M38.4 569.89 h1.6 M356.6 569.89 h-1.6 M38.4 561.80 h3.0 M356.6 561.80 h-3.0 M38.4 553.71 h1.6 M356.6 553.71 h-1.6 M38.4 545.62 h1.6 M356.6 545.62 h-1.6 M38.4 537.53 h1.6 M356.6 537.53 h-1.6 M38.4 529.44 h1.6 M356.6 529.44 h-1.6 M38.4 521.35 h3.0 M356.6 521.35 h-3.0 M38.4 513.26 h1.6 M356.6 513.26 h-1.6" stroke="#262626" stroke-width="0.75" fill="none"/>
<rect x="38.4" y="509.4" width="318.20000000000005" height="133.3" fill="none" stroke="#262626" stroke-width="0.75"/>
<g font-family="DejaVu Sans, Liberation Sans, sans-serif" font-size="11.7" fill="#000" stroke="#000" stroke-width="0.2">
<text x="52.90" y="654.70" text-anchor="middle">−3.0</text>
<text x="89.06" y="654.70" text-anchor="middle">−2.5</text>
<text x="125.22" y="654.70" text-anchor="middle">−2.0</text>
<text x="161.39" y="654.70" text-anchor="middle">−1.5</text>
<text x="197.55" y="654.70" text-anchor="middle">−1.0</text>
<text x="233.71" y="654.70" text-anchor="middle">−0.5</text>
<text x="269.88" y="654.70" text-anchor="middle">0.0</text>
<text x="306.04" y="654.70" text-anchor="middle">0.5</text>
<text x="342.20" y="654.70" text-anchor="middle">1.0</text>
<text x="35.50" y="647.20" text-anchor="end">0.0</text>
<text x="35.50" y="606.75" text-anchor="end">0.5</text>
<text x="35.50" y="566.30" text-anchor="end">1.0</text>
<text x="35.50" y="525.85" text-anchor="end">1.5</text>
</g>
<text transform="translate(10.6 576.05) rotate(-90)" text-anchor="middle" font-family="DejaVu Sans, Liberation Sans, sans-serif" font-size="14.1" fill="#000" stroke="#000" stroke-width="0.2">density</text>
</g>
<text x="197.5" y="161.3" text-anchor="middle" font-family="DejaVu Sans, Liberation Sans, sans-serif" font-size="14.1" fill="#000" stroke="#000" stroke-width="0.2">z</text>
<text x="197.5" y="331.4" text-anchor="middle" font-family="DejaVu Sans, Liberation Sans, sans-serif" font-size="14.1" fill="#000" stroke="#000" stroke-width="0.2">log<tspan dx="2.4" font-style="italic">L</tspan><tspan font-style="italic" font-size="9.9" dy="2.2">bol</tspan></text>
<text x="197.5" y="501.0" text-anchor="middle" font-family="DejaVu Sans, Liberation Sans, sans-serif" font-size="14.1" fill="#000" stroke="#000" stroke-width="0.2">log<tspan dx="2.4" font-style="italic">M</tspan><tspan font-style="italic" font-size="9.9" dy="2.2">BH</tspan></text>
<text x="197.5" y="670.6" text-anchor="middle" font-family="DejaVu Sans, Liberation Sans, sans-serif" font-size="14.1" fill="#000" stroke="#000" stroke-width="0.2"><tspan font-style="italic">η</tspan><tspan font-style="italic" font-size="9.9" dy="2.2">Edd</tspan></text>
<path d="M276.9 15.95 h19.3 v-6.9 h-19.3 Z" fill="none" stroke="#1f77b4" stroke-width="1.6" stroke-dasharray="1.6 1.65"/>
<text x="303.4" y="15.90" font-family="DejaVu Sans, Liberation Sans, sans-serif" font-size="9.41" fill="#000" stroke="#000" stroke-width="0.15">Hb(329)</text>
<path d="M276.9 29.85 h19.3 v-6.9 h-19.3 Z" fill="none" stroke="#ff7f0e" stroke-width="1.5" stroke-dasharray="5.5 1.5 1.2 1.5"/>
<text x="303.4" y="29.80" font-family="DejaVu Sans, Liberation Sans, sans-serif" font-size="9.41" fill="#000" stroke="#000" stroke-width="0.15">MgII(676)</text>
<path d="M276.9 44.55 h19.3 v-6.9 h-19.3 Z" fill="none" stroke="#2ca02c" stroke-width="1.55"/>
<text x="303.4" y="44.50" font-family="DejaVu Sans, Liberation Sans, sans-serif" font-size="9.41" fill="#000" stroke="#000" stroke-width="0.15">CIV(254)</text>
</svg>
</body></html>
